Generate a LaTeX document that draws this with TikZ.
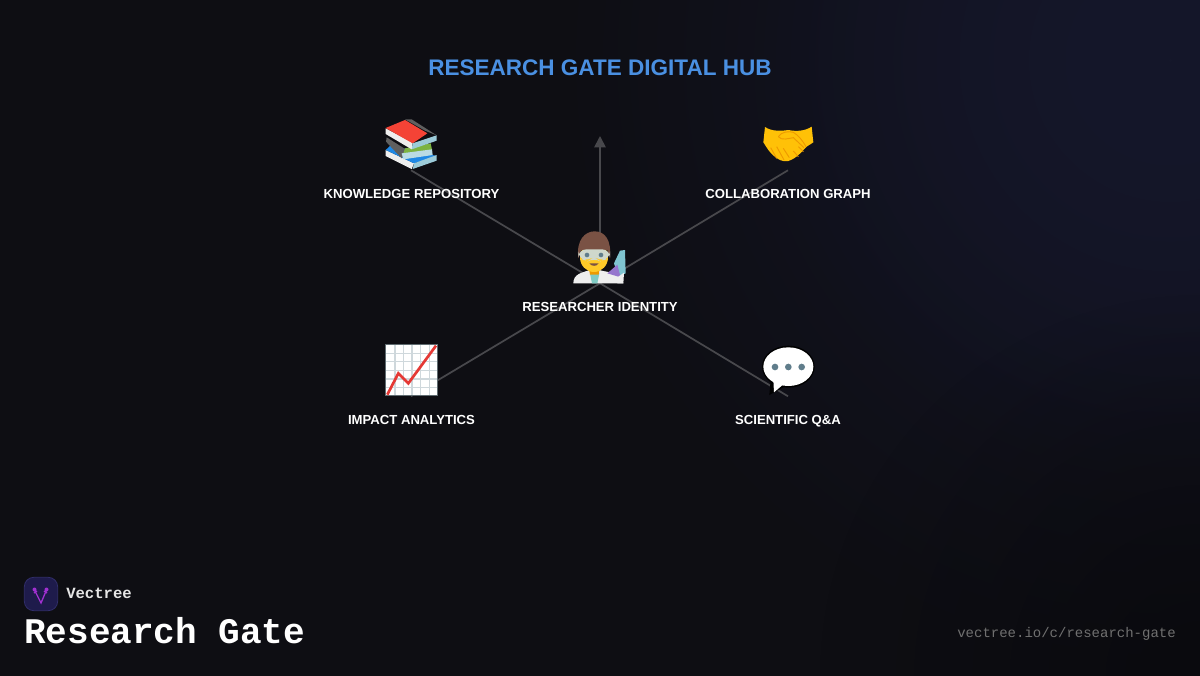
\documentclass[tikz,border=0pt]{standalone}
\usepackage{fontspec}
\setmainfont{Liberation Sans}
\setmonofont{Liberation Mono}
\usetikzlibrary{arrows.meta,fadings}
\definecolor{basedark}{HTML}{0E0E13}
\definecolor{cornerdark}{HTML}{0A0A0E}
\definecolor{glowblue}{HTML}{15172A}
\definecolor{hubblue}{HTML}{4A90E2}
\definecolor{linkgray}{HTML}{48484C}
\definecolor{urlgray}{HTML}{707070}
\definecolor{logofill}{HTML}{1E1B4B}
\definecolor{logoedge}{HTML}{312E6B}
\definecolor{logoviolet}{HTML}{A030D0}
\definecolor{bookred}{HTML}{F44336}
\definecolor{bookblue}{HTML}{1E88E5}
\definecolor{bookgreen}{HTML}{7CB342}
\definecolor{bookgray}{HTML}{5F5F5F}
\definecolor{bookedge}{HTML}{9CCBD9}
\definecolor{pagewhite}{HTML}{EEEEEE}
\definecolor{handgold}{HTML}{FFC107}
\definecolor{handline}{HTML}{EE9A00}
\definecolor{hairbrown}{HTML}{7A5244}
\definecolor{skingold}{HTML}{FFCA28}
\definecolor{tealcollar}{HTML}{80CBC4}
\definecolor{gogglegray}{HTML}{CFD8CC}
\definecolor{flaskteal}{HTML}{7FC4D0}
\definecolor{flaskviolet}{HTML}{9575CD}
\definecolor{gridgray}{HTML}{CFD8DC}
\definecolor{chartedge}{HTML}{5F6B70}
\definecolor{chartred}{HTML}{E53935}
\definecolor{dotgray}{HTML}{607D8B}
\tikzfading[name=softround,inner color=transparent!0,outer color=transparent!100]
\tikzset{
  emojispot/.style={minimum size=39pt,inner sep=0pt},
  itemlabel/.style={anchor=base,font=\bfseries\fontsize{9.85}{12}\selectfont,text=white,inner sep=0pt},
  linkline/.style={draw=linkgray,line width=1.3pt},
  zoomed/.style={shift={#1},x=.25pt,y=-.25pt}
}
\begin{document}
\begin{tikzpicture}[x=.75pt,y=-.75pt]
\useasboundingbox (0,0) rectangle (1200,675);
\fill[basedark] (-5,-5) rectangle (1205,680);
\begin{scope}
\clip (-5,-5) rectangle (1205,680);
\fill[glowblue,path fading=softround] (1170,60) circle (620);
\fill[glowblue,path fading=softround] (1170,60) circle (420);
\fill[cornerdark,path fading=softround] (1200,675) circle (380);
\end{scope}

\node[emojispot] (identity) at (600,257) {};
\node[emojispot] (repository) at (411,144) {};
\node[emojispot] (collaboration) at (788,144) {};
\node[emojispot] (analytics) at (411,370) {};
\node[emojispot] (qanda) at (788,370) {};
\coordinate (uptip) at (600,136);

\draw[linkline] (identity.south) -- (repository.south);
\draw[linkline] (identity.south) -- (collaboration.south);
\draw[linkline] (identity.south) -- (analytics.south);
\draw[linkline] (identity.south) -- (qanda.south);
\draw[linkline,-{Triangle[length=8.5pt,width=8.5pt]}] (identity.south) -- (uptip);

% books
\begin{scope}[zoomed={(340,100)},line join=round]
\fill[pagewhite] (137,150) -- (137,168) -- (215,207) -- (222,190) -- cycle;
\fill[bookblue] (137,150) -- (152,136) -- (290,168) -- (222,190) -- cycle;
\fill[bookedge] (218,207) -- (290,182) -- (290,165) -- (222,190) -- cycle;
\fill[bookgray] (140,112) -- (138,125) -- (185,175) -- (200,150) -- cycle;
\fill[bookgreen] (195,145) -- (272,130) -- (276,150) -- (190,160) -- cycle;
\fill[bookedge!70!white] (185,160) -- (276,148) -- (278,165) -- (190,178) -- cycle;
\fill[bookgray] (195,58) -- (215,58) -- (290,106) -- (255,92) -- cycle;
\fill[pagewhite] (137,85) -- (137,102) -- (215,148) -- (218,128) -- cycle;
\fill[bookred] (137,84) -- (195,60) -- (262,100) -- (218,130) -- cycle;
\fill[bookedge] (215,148) -- (290,122) -- (290,106) -- (218,130) -- cycle;
\end{scope}

% handshake
\begin{scope}[zoomed={(700,105)}]
\fill[handgold] (195,66) .. controls (215,80) and (245,78) .. (265,75) .. controls (290,80) and (315,78) .. (335,65) -- (340,112) -- (320,125) .. controls (305,140) and (290,160) .. (265,168) .. controls (245,172) and (225,160) .. (205,135) -- (190,112) -- cycle;
\draw[handline,line width=.7pt] (235,95) .. controls (245,80) and (265,78) .. (280,82) .. controls (295,90) and (310,110) .. (318,125);
\draw[handline,line width=.7pt] (235,95) .. controls (245,108) and (265,100) .. (280,98) -- (312,128) (212,128) -- (230,160) (230,125) -- (252,165) (250,130) -- (268,158) (280,138) -- (295,155) (295,125) -- (310,140);
\end{scope}

% researcher
\begin{scope}[zoomed={(510,130)}]
\fill[pagewhite] (190,460) .. controls (190,432) and (215,428) .. (240,420) -- (268,420) .. controls (290,428) and (340,425) .. (340,460) -- cycle;
\fill[tealcollar] (240,430) -- (268,430) -- (262,460) -- (246,460) -- cycle;
\fill[handline] (236,410) -- (270,410) -- (266,434) -- (240,434) -- cycle;
\fill[skingold] (252,382) ellipse (42 and 44);
\fill[hairbrown] (205,385) .. controls (198,330) and (225,304) .. (254,304) .. controls (285,304) and (305,330) .. (300,385) -- (292,360) -- (213,360) -- cycle;
\fill[gogglegray,rounded corners=6pt] (205,358) -- (300,358) -- (300,388) -- (268,392) -- (252,382) -- (236,392) -- (205,388) -- cycle;
\fill[dotgray] (231,375) circle (7) (273,375) circle (7);
\fill[hairbrown] (238,400) .. controls (245,410) and (260,410) .. (266,400) -- cycle;
\fill[flaskteal] (312,400) -- (330,362) -- (345,360) -- (347,430) -- (325,440) -- cycle;
\fill[flaskviolet] (292,430) -- (322,404) -- (332,442) -- cycle;
\fill[pagewhite] (322,442) -- (342,428) -- (340,460) -- (322,460) -- cycle;
\end{scope}

% chart
\begin{scope}[zoomed={(340,330)}]
\fill[chartedge] (136,42) rectangle (294,199);
\fill[white] (139,45) rectangle (291,196);
\foreach \gridpos in {165,191,216,242,268}
  \draw[gridgray,line width=.9pt] (\gridpos,45) -- (\gridpos,196);
\foreach \gridpos in {70,95,121,147,172}
  \draw[gridgray,line width=.9pt] (139,\gridpos) -- (291,\gridpos);
\draw[chartred,line width=2pt] (142,194) -- (175,130) -- (205,160) -- (288,47);
\end{scope}

% speech bubble
\begin{scope}[zoomed={(700,330)}]
\fill[black] (265,110) ellipse (79 and 63);
\fill[black] (212,150) -- (208,195) -- (250,172) -- cycle;
\fill[white] (265,110) ellipse (75 and 58);
\fill[white] (220,150) -- (222,187) -- (250,163) -- cycle;
\fill[dotgray] (225,111) circle (10) (265,111) circle (10) (305,111) circle (10);
\end{scope}

\node[itemlabel] (identitytext) at (600,311) {RESEARCHER IDENTITY};
\node[itemlabel] (repositorytext) at (411.5,198) {KNOWLEDGE REPOSITORY};
\node[itemlabel] (collaborationtext) at (788,198) {COLLABORATION GRAPH};
\node[itemlabel] (analyticstext) at (411.5,424) {IMPACT ANALYTICS};
\node[itemlabel] (qandatext) at (788,424) {SCIENTIFIC Q\&A};

\node[anchor=base,font=\bfseries\fontsize{16.9}{20}\selectfont,text=hubblue,inner sep=0pt] (hubtitle) at (600,75.5) {RESEARCH GATE DIGITAL HUB};

% footer
\node[draw=logoedge,fill=logofill,rounded corners=7pt,minimum size=25pt,inner sep=0pt,line width=.6pt] (logo) at (41,594) {};
\draw[logoviolet,line width=1pt] (34.5,590) -- (41,603) -- (46.5,590) (34,593) -- (37,591) (47,593) -- (44,591);
\fill[logoviolet] (34.5,589.5) circle (2) (46.5,589.5) circle (2);
\node[anchor=base west,font=\ttfamily\bfseries\fontsize{11.7}{14}\selectfont,text=white!90!black,inner sep=0pt] (brand) at (66,598) {Vectree};
\node[anchor=base west,font=\ttfamily\bfseries\fontsize{27}{32}\selectfont,text=white,inner sep=0pt] (coursetitle) at (24,643.5) {Research Gate};
\node[anchor=base east,font=\ttfamily\fontsize{10.5}{13}\selectfont,text=urlgray,inner sep=0pt] (courseurl) at (1176,637.5) {vectree.io/c/research-gate};
\end{tikzpicture}
\end{document}
